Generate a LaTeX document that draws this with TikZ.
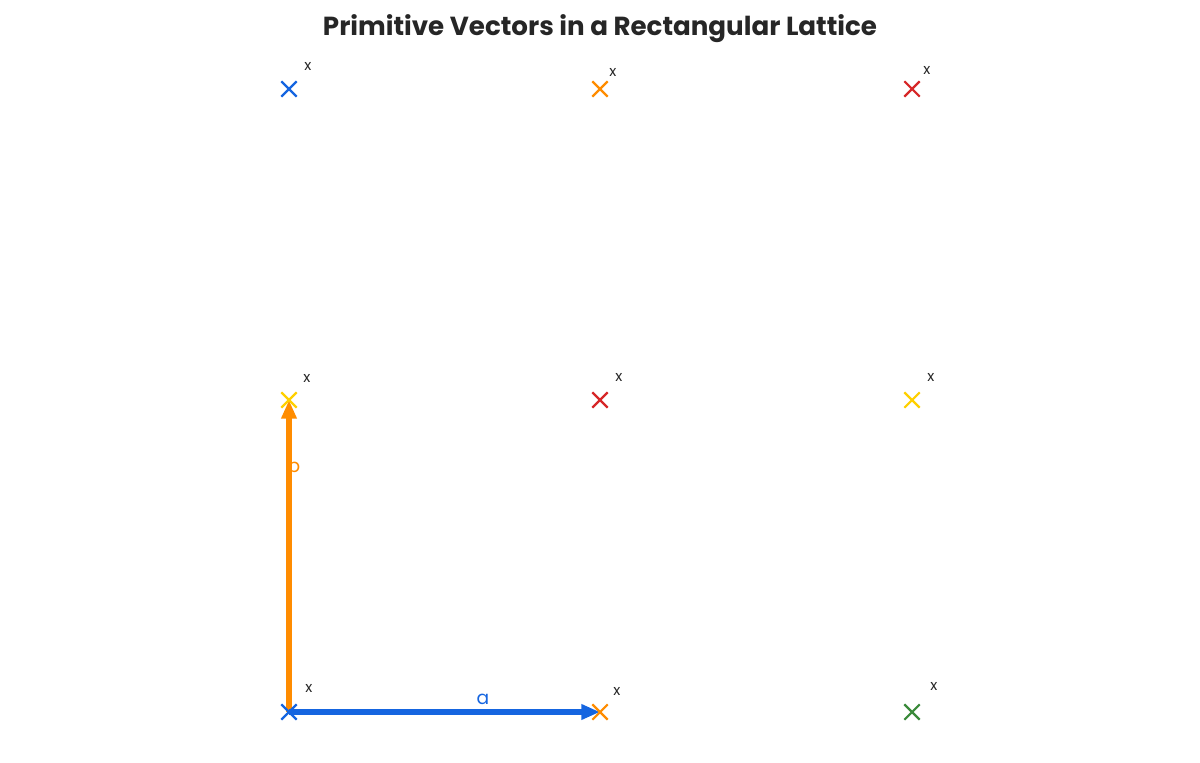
\documentclass[tikz,border=0pt]{standalone}
\usepackage{fontspec}
\setmainfont{Poppins}
\usetikzlibrary{shapes.misc,arrows.meta}
\definecolor{cblue}{HTML}{1565E0}
\definecolor{corange}{HTML}{FF8C00}
\definecolor{cred}{HTML}{D62728}
\definecolor{cyellow}{HTML}{FFD000}
\definecolor{cgreen}{HTML}{3A8A3A}
\tikzset{
  mk/.style={cross out, draw=#1, line width=1.6pt, minimum size=10pt, inner sep=0pt},
  lbl/.style={font=\fontsize{11}{13}\selectfont, text=black!85, inner sep=0pt},
  vec/.style={draw=#1, line width=3.8pt, -{Triangle[length=14pt,width=11pt]}},
}
\begin{document}
\begin{tikzpicture}[x=0.75pt,y=-0.75pt]
\useasboundingbox (0,0) rectangle (1200,763);
\node[font=\fontsize{19.6}{23}\selectfont\bfseries, text=black!85] (title) at (600,29) {Primitive Vectors in a Rectangular Lattice};
% points
\coordinate (p00) at (289,712);
\coordinate (p10) at (600,712);
\coordinate (p20) at (912,712);
\coordinate (p01) at (289,400);
\coordinate (p11) at (600,400);
\coordinate (p21) at (912,400);
\coordinate (p02) at (289,89);
\coordinate (p12) at (600,89);
\coordinate (p22) at (912,89);
% label b behind arrow
\node[text=corange, font=\fontsize{14}{16}\selectfont, inner sep=0pt] (lb) at (294,466) {b};
% vectors
\draw[vec=corange] (p00) -- (p01);
\draw[vec=cblue] (p00) -- (p10);
\node[text=cblue, font=\fontsize{14}{16}\selectfont, inner sep=0pt] (la) at (483,699) {a};
% markers
\node[mk=cblue] (m00) at (p00) {};
\node[mk=corange] (m10) at (p10) {};
\node[mk=cgreen] (m20) at (p20) {};
\node[mk=cyellow] (m01) at (p01) {};
\node[mk=cred] (m11) at (p11) {};
\node[mk=cyellow] (m21) at (p21) {};
\node[mk=cblue] (m02) at (p02) {};
\node[mk=corange] (m12) at (p12) {};
\node[mk=cred] (m22) at (p22) {};
% x labels
\node[lbl] (x02) at (308,66) {x};
\node[lbl] (x12) at (613,72) {x};
\node[lbl] (x22) at (927,70) {x};
\node[lbl] (x01) at (307,378) {x};
\node[lbl] (x11) at (619,377) {x};
\node[lbl] (x21) at (931,377) {x};
\node[lbl] (x00) at (309,688) {x};
\node[lbl] (x10) at (617,691) {x};
\node[lbl] (x20) at (934,686) {x};
\end{tikzpicture}
\end{document}
